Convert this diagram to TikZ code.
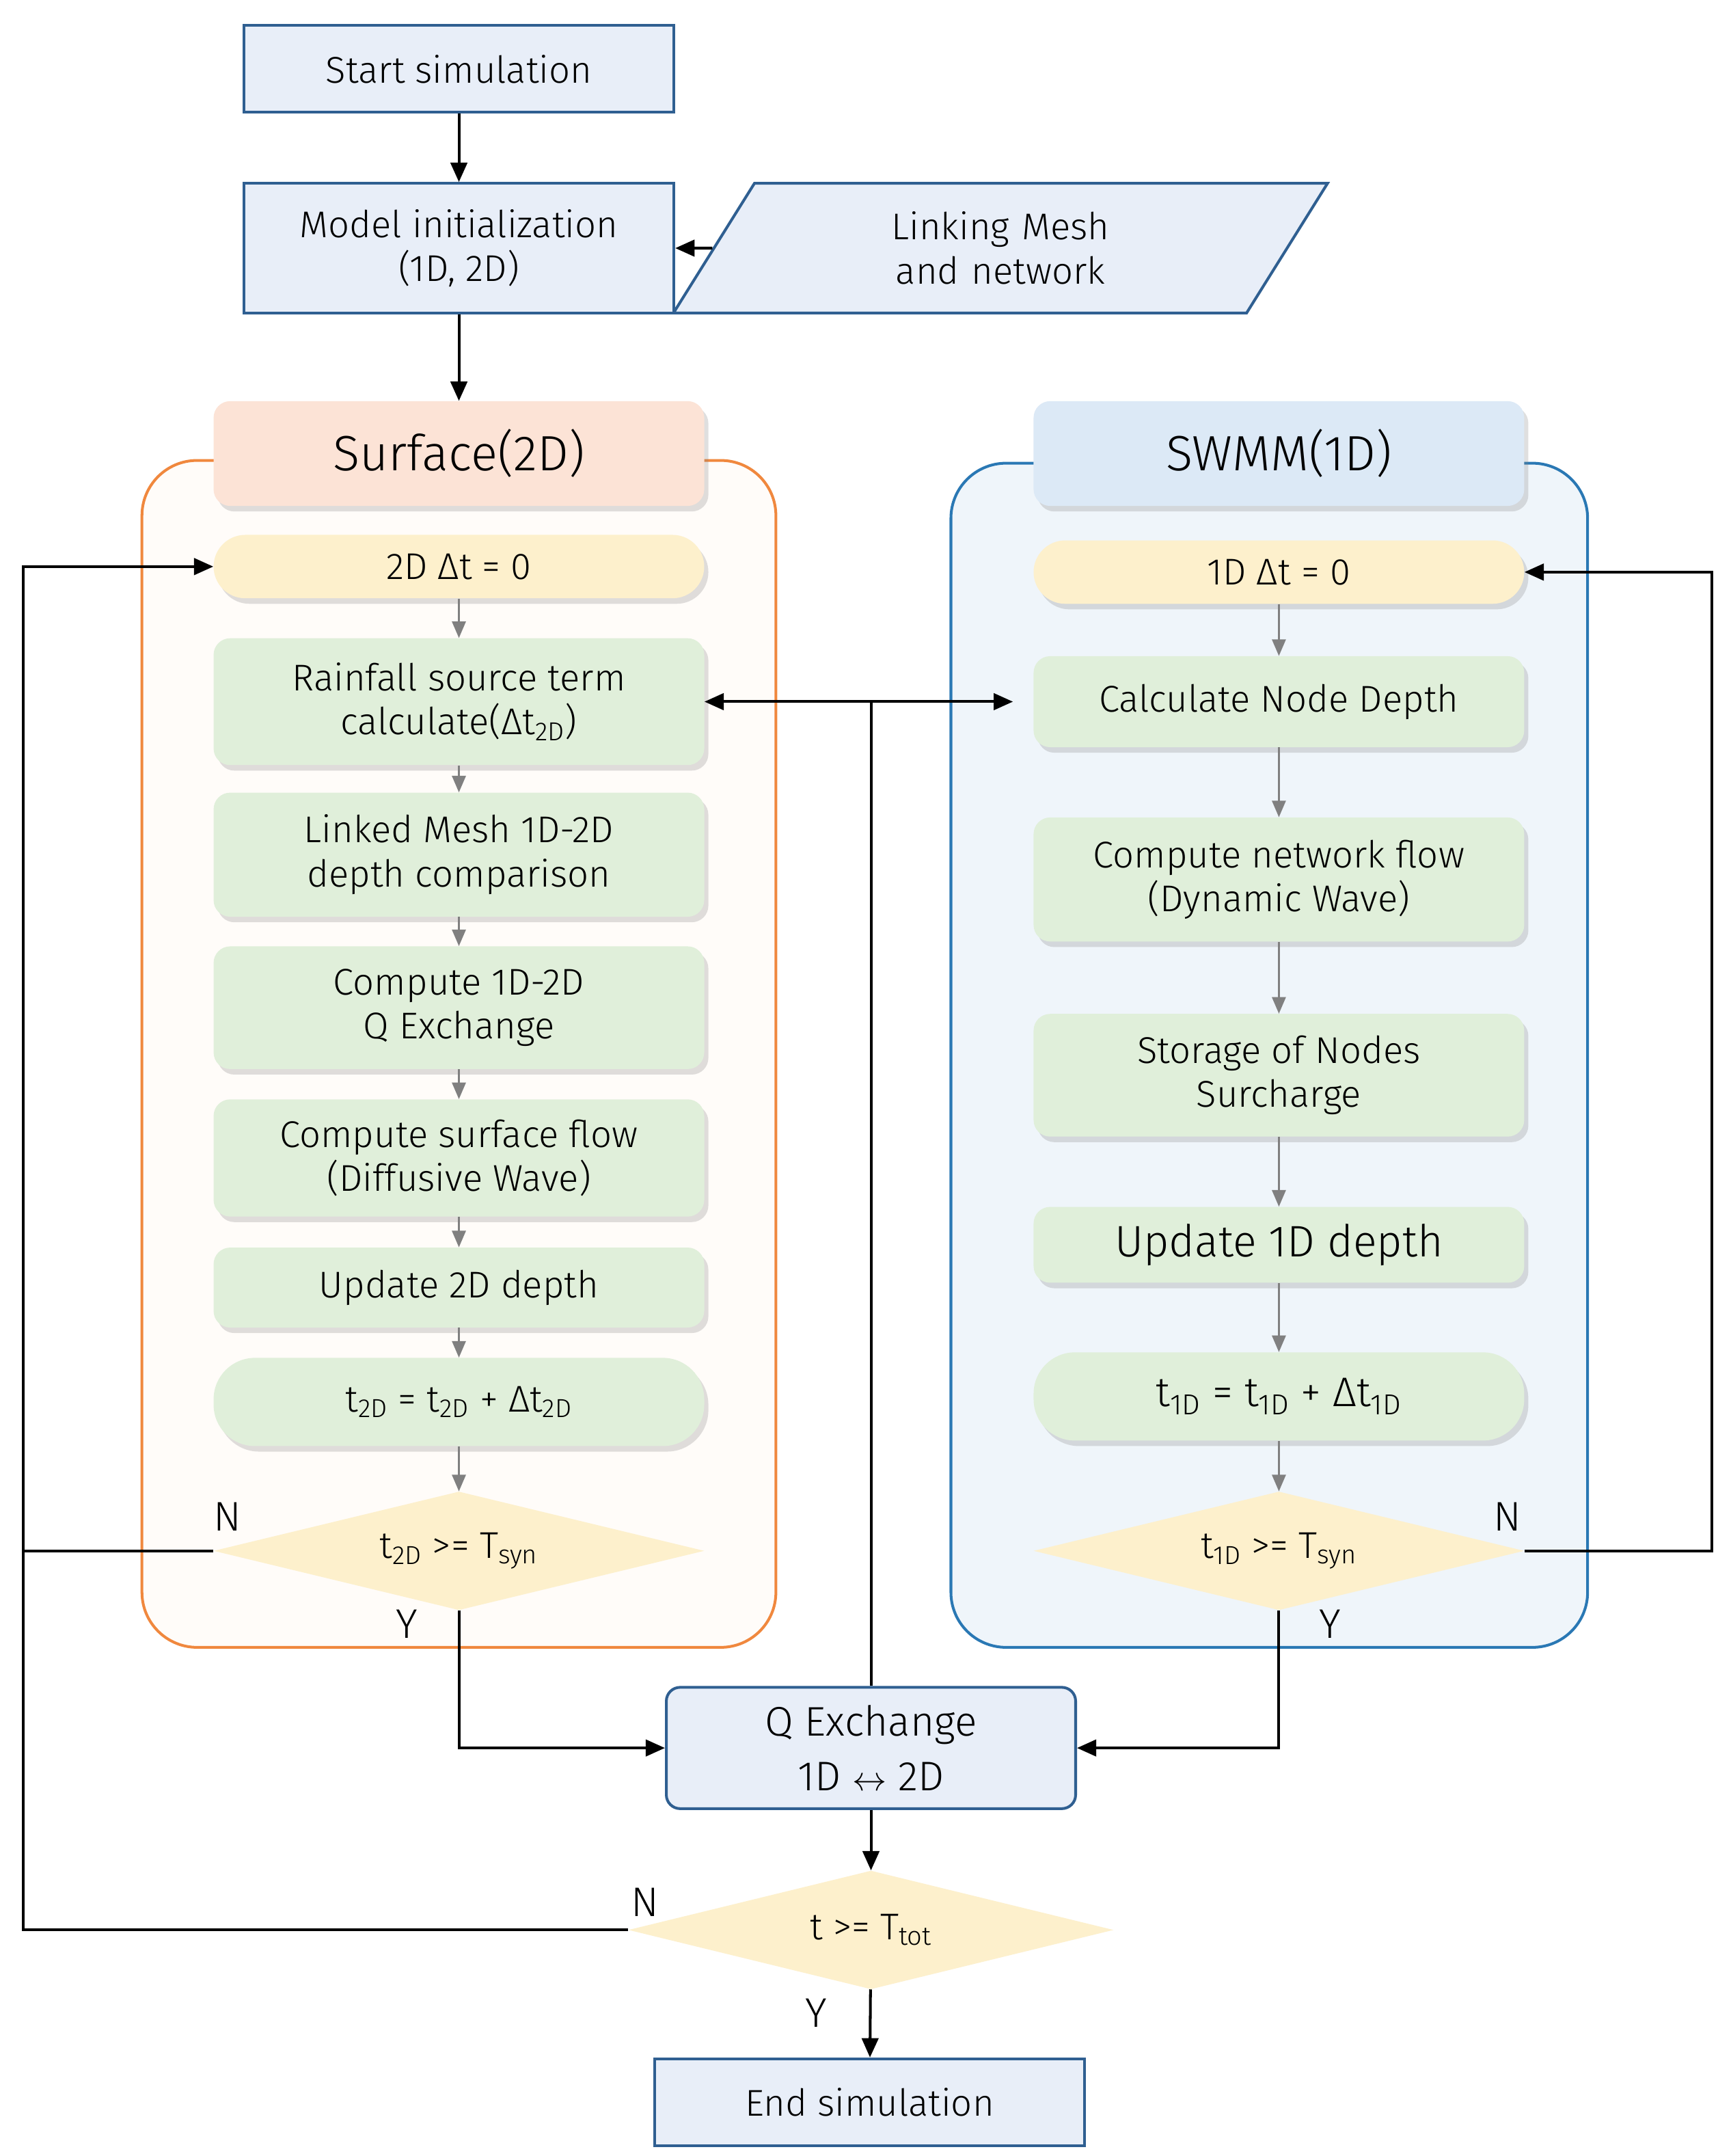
\documentclass[tikz,border=0pt]{standalone}
\usepackage{fontspec}
\setmainfont{Fira Sans Light}
\usetikzlibrary{shapes.geometric,arrows.meta,shadows}
\definecolor{bluebd}{HTML}{2F5F91}
\definecolor{bluefl}{HTML}{E8EEF8}
\definecolor{orgbd}{HTML}{F0883E}
\definecolor{orgfl}{HTML}{FFFCF9}
\definecolor{orghd}{HTML}{FCE3D6}
\definecolor{swbd}{HTML}{2A78B4}
\definecolor{swfl}{HTML}{EFF5FA}
\definecolor{swhd}{HTML}{DCE9F6}
\definecolor{grn}{HTML}{E0EFDA}
\definecolor{yel}{HTML}{FDF0CC}
\begin{document}
\begin{tikzpicture}[x=1pt,y=-1pt,
  font=\fontsize{27}{32}\selectfont,
  term/.style={draw=bluebd,line width=2pt,fill=bluefl,minimum width=312pt,align=center,inner sep=0pt},
  head/.style={rounded corners=12pt,minimum width=356pt,minimum height=76pt,
    drop shadow={opacity=.25,shadow xshift=3pt,shadow yshift=-4pt},font=\fontsize{36}{40}\selectfont},
  proc/.style={rounded corners=12pt,fill=grn,minimum width=356pt,align=center,inner sep=0pt,
    drop shadow={opacity=.25,shadow xshift=3pt,shadow yshift=-4pt}},
  pill/.style={rounded corners=23pt,fill=yel,minimum width=356pt,minimum height=46pt,inner sep=0pt,
    drop shadow={opacity=.25,shadow xshift=3pt,shadow yshift=-4pt}},
  tproc/.style={proc,rounded corners=30pt},
  dec/.style={diamond,fill=yel,aspect=4.1,inner sep=0pt,minimum width=356pt,minimum height=86pt},
  garr/.style={-{Triangle[length=12pt,width=10pt]},draw=gray,line width=1.2pt},
  barr/.style={-{Triangle[length=14pt,width=12pt]},line width=2pt},
  bl/.style={line width=2pt},
  lab/.style={font=\fontsize{30}{32}\selectfont}]
\useasboundingbox (0,0) rectangle (1256,1564);
\fill[white] (0,0) rectangle (1256,1564);
% containers
\draw[orgbd,line width=2pt,fill=orgfl,rounded corners=40pt] (103,334) rectangle (563,1195);
\draw[swbd,line width=2pt,fill=swfl,rounded corners=40pt] (690,336) rectangle (1152,1195);
% top
\node[term,minimum height=63pt] (start) at (333,50) {Start simulation};
\node[term,minimum height=94pt] (init) at (333,180) {Model initialization\\(1D, 2D)};
\node[trapezium,trapezium left angle=58,trapezium right angle=122,draw=bluebd,line width=2pt,fill=bluefl,
  minimum height=94pt,text width=200pt,align=center,inner sep=0pt] (link) at (726,180) {Linking Mesh\\and network};
\node[head,fill=orghd] (surf) at (333,329) {Surface(2D)};
\node[head,fill=swhd] (swmm) at (928,329) {SWMM(1D)};
% left column
\node[pill] (l0) at (333,411) {2D Δt = 0};
\node[proc,minimum height=92pt] (l1) at (333,509) {Rainfall source term\\calculate(Δt\textsubscript{2D})};
\node[proc,minimum height=90pt] (l2) at (333,620) {Linked Mesh 1D-2D\\depth comparison};
\node[proc,minimum height=89pt] (l3) at (333,731) {Compute 1D-2D\\Q Exchange};
\node[proc,minimum height=85pt] (l4) at (333,840) {Compute surface flow\\(Diffusive Wave)};
\node[proc,minimum height=58pt] (l5) at (333,934) {Update 2D depth};
\node[tproc,minimum height=64pt] (l6) at (333,1017) {t\textsubscript{2D} = t\textsubscript{2D} + Δt\textsubscript{2D}};
\node[dec] (l7) at (333,1125) {t\textsubscript{2D} >= T\textsubscript{syn}};
% right column
\node[pill] (r0) at (928,415) {1D Δt = 0};
\node[proc,minimum height=66pt] (r1) at (928,509) {Calculate Node Depth};
\node[proc,minimum height=90pt] (r2) at (928,638) {Compute network flow\\(Dynamic Wave)};
\node[proc,minimum height=89pt] (r3) at (928,780) {Storage of Nodes\\Surcharge};
\node[proc,minimum height=55pt,font=\fontsize{32}{36}\selectfont] (r4) at (928,903) {Update 1D depth};
\node[tproc,minimum height=64pt,font=\fontsize{30}{34}\selectfont] (r5) at (928,1013) {t\textsubscript{1D} = t\textsubscript{1D} + Δt\textsubscript{1D}};
\node[dec] (r6) at (928,1125) {t\textsubscript{1D} >= T\textsubscript{syn}};
% bottom
\node[term,rounded corners=10pt,minimum width=297pt,minimum height=88pt,font=\fontsize{30}{40}\selectfont] (qx) at (632,1268) {Q Exchange\\1D $\leftrightarrow$ 2D};
\node[dec,minimum width=352pt] (tot) at (632,1400) {t >= T\textsubscript{tot}};
\node[term,minimum height=63pt] (end) at (631,1525) {End simulation};
% column arrows
\foreach \a/\b in {l0/l1,l1/l2,l2/l3,l3/l4,l4/l5,l5/l6,l6/l7,r0/r1,r1/r2,r2/r3,r3/r4,r4/r5,r5/r6}
  \draw[garr] (\a) -- (\b);
% main flow
\draw[barr] (start) -- (init);
\draw[barr] (link) -- (init);
\draw[barr] (init) -- (surf);
\coordinate (lx) at (17,1125);
\draw[bl] (l7.west) -- (lx);
\draw[barr] (lx) |- (l0.west);
\draw[barr] (r6.east) -- (1242,1125) |- (r0.east);
\draw[barr] (l7.south) |- (qx.west);
\draw[barr] (r6.south) |- (qx.east);
\coordinate (jn) at (632,509);
\draw[bl] (qx.north) -- (jn);
\draw[barr] (jn) -- (l1.east);
\draw[barr] (jn) -- (735,509);
\draw[barr] (qx) -- (tot);
\draw[bl] (tot.west) -| (lx);
\draw[barr] (tot) -- (end);
% labels
\node[lab] at (165,1100) {N};
\node[lab] at (295,1178) {Y};
\node[lab] at (1094,1100) {N};
\node[lab] at (965,1178) {Y};
\node[lab] at (468,1380) {N};
\node[lab] at (592,1460) {Y};
\end{tikzpicture}
\end{document}
